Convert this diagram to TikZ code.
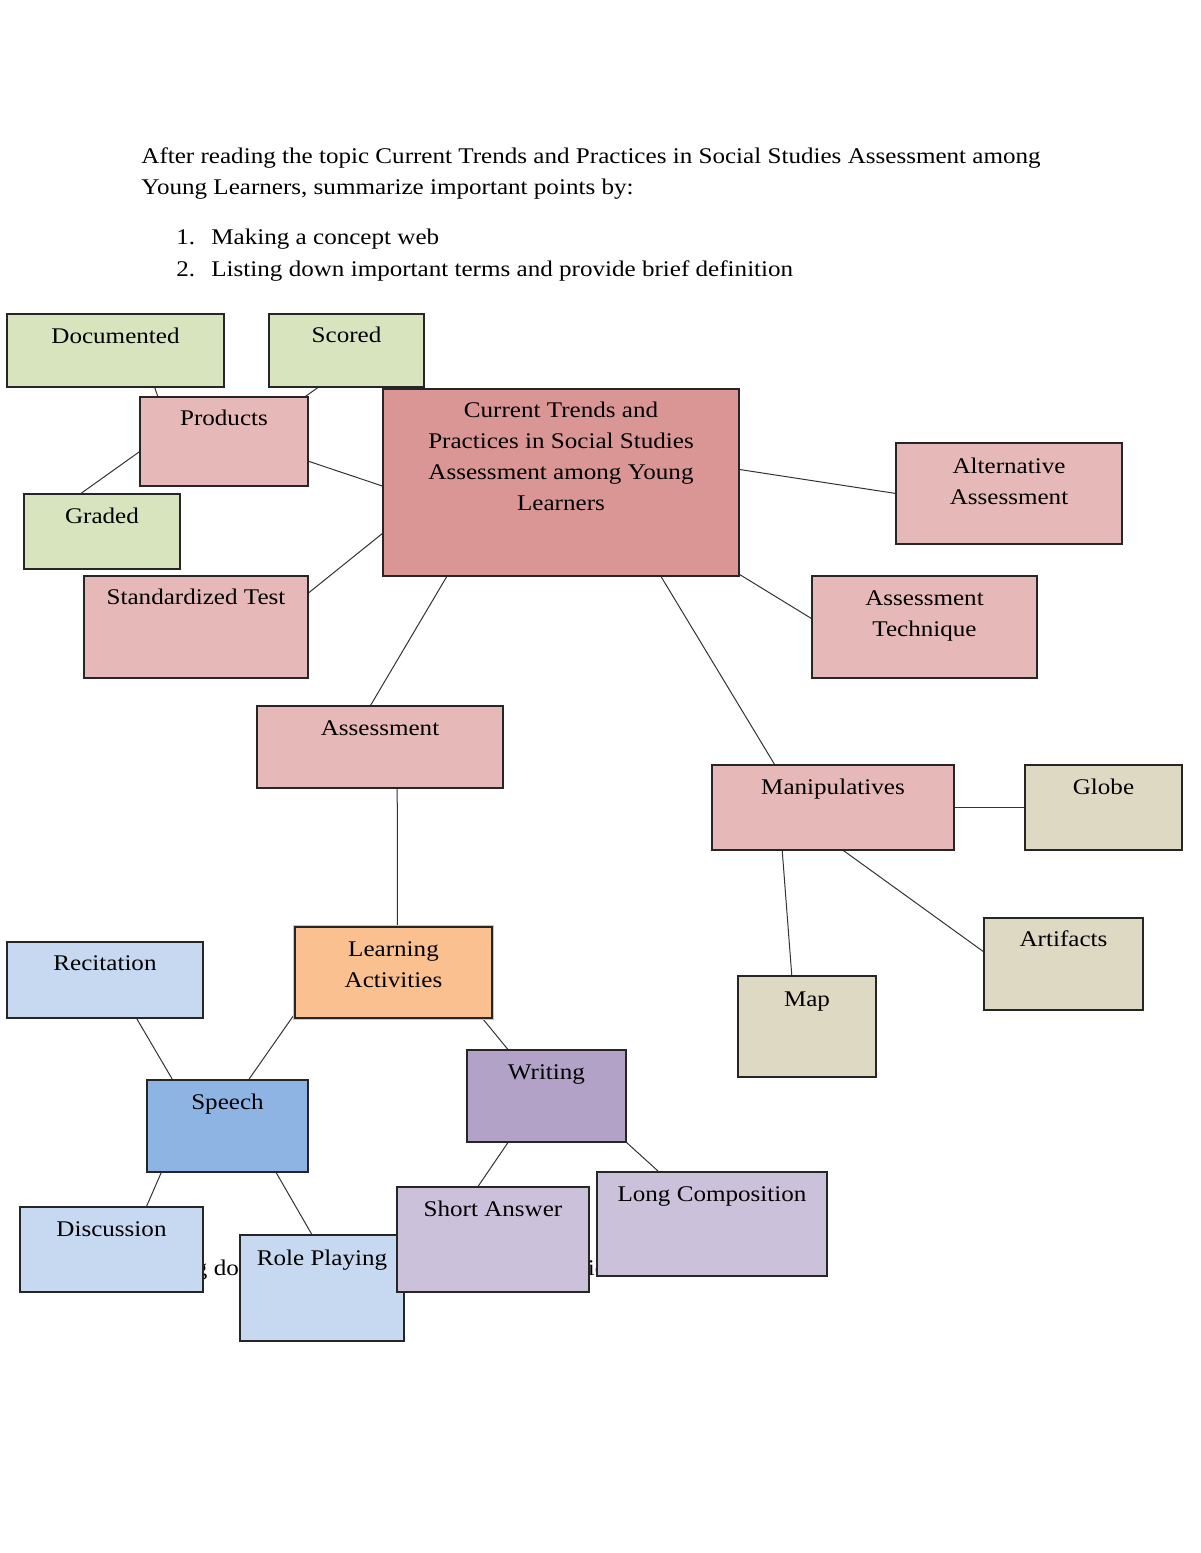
\documentclass[tikz,border=0pt]{standalone}
\usepackage{fontspec}
\setmainfont{Liberation Serif}[FakeStretch=1.12]
\usetikzlibrary{calc}
\definecolor{cgreen}{HTML}{D7E4BD}
\definecolor{cpink}{HTML}{E6B9B8}
\definecolor{ccentral}{HTML}{D99694}
\definecolor{ctan}{HTML}{DDD9C3}
\definecolor{corange}{HTML}{FAC090}
\definecolor{cglow}{HTML}{F8B98A}
\definecolor{clblue}{HTML}{C6D9F1}
\definecolor{cblue}{HTML}{8EB4E3}
\definecolor{cpurple}{HTML}{B3A2C7}
\definecolor{clpurple}{HTML}{CCC1DA}
\pgfdeclarelayer{bg}
\pgfsetlayers{bg,main}
\tikzset{
  box/.style={rectangle, draw=black!85, line width=0.75pt, inner sep=0pt, outer sep=0pt},
  lbl/.style={inner sep=0pt, font=\fontsize{11.2pt}{15.5pt}\selectfont, align=center, anchor=base},
  txt/.style={inner sep=0pt, font=\fontsize{11.2pt}{15.5pt}\selectfont, anchor=base west},
  link/.style={draw=black!80, line width=0.5pt},
  glow/.style={preaction={draw=cglow, line width=2.2pt}},
}
% name, style, x1, y1, x2, y2, baseline y of the last line, text
\newcommand\cbox[8]{%
  \node[box,#2,minimum width={(#5-#3)*0.5pt},minimum height={(#6-#4)*0.5pt}] (#1) at ({(#3+#5)/2},{(#4+#6)/2}) {};
  \node[lbl] (#1-t) at ([yshift={-(#7-#4)*0.5pt}]#1.north) {#8};
}
\begin{document}
\begin{tikzpicture}[x=0.5pt,y=-0.5pt]
\useasboundingbox (0,0) rectangle (1200,1553);

% heading
\node[txt] (h1) at (141,163) {After reading the topic Current Trends and Practices in Social Studies Assessment among};
\node[txt] (h2) at (141,194) {Young Learners, summarize important points by:};
\node[txt] (n1) at (176,244) {1.};
\node[txt] (i1) at (211,244) {Making a concept web};
\node[txt] (n2) at (176,276) {2.};
\node[txt] (i2) at (211,276) {Listing down important terms and provide brief definition};

% text partly hidden behind the boxes
\begin{pgfonlayer}{bg}
\node[txt] (hidden) at (136,1275) {Listing down important terms and provide brief definition};
\end{pgfonlayer}

% boxes
\cbox{doc}{fill=cgreen}{7}{314}{224}{387}{343}{Documented}
\cbox{sco}{fill=cgreen}{269}{314}{424}{387}{342}{Scored}
\cbox{prod}{fill=cpink}{140}{397}{308}{486}{425}{Products}
\cbox{grad}{fill=cgreen}{24}{494}{180}{569}{523}{Graded}
\cbox{cen}{fill=ccentral}{383}{389}{739}{576}{510}{Current Trends and\\Practices in Social Studies\\Assessment among Young\\Learners}
\cbox{alt}{fill=cpink}{896}{443}{1122}{544}{504}{Alternative\\Assessment}
\cbox{tech}{fill=cpink}{812}{576}{1037}{678}{636}{Assessment\\Technique}
\cbox{std}{fill=cpink}{84}{576}{308}{678}{604}{Standardized Test}
\cbox{ass}{fill=cpink}{257}{706}{503}{788}{735}{Assessment}
\cbox{man}{fill=cpink}{712}{765}{954}{850}{794}{Manipulatives}
\cbox{glo}{fill=ctan}{1025}{765}{1182}{850}{794}{Globe}
\cbox{art}{fill=ctan}{984}{918}{1143}{1010}{946}{Artifacts}
\cbox{map}{fill=ctan}{738}{976}{876}{1077}{1006}{Map}
\cbox{lea}{fill=corange,glow}{295}{927}{492}{1018}{987}{Learning\\Activities}
\cbox{rec}{fill=clblue}{7}{942}{203}{1018}{970}{Recitation}
\cbox{spe}{fill=cblue}{147}{1080}{308}{1172}{1109}{Speech}
\cbox{wri}{fill=cpurple}{467}{1050}{626}{1142}{1079}{Writing}
\cbox{dis}{fill=clblue}{20}{1207}{203}{1292}{1236}{Discussion}
\cbox{rol}{fill=clblue}{240}{1235}{404}{1341}{1265}{Role Playing}
\cbox{sho}{fill=clpurple}{397}{1187}{589}{1292}{1216}{Short Answer}
\cbox{lon}{fill=clpurple}{597}{1172}{827}{1276}{1201}{Long Composition}

% connectors
\begin{pgfonlayer}{bg}
\draw[link] ($(doc.south west)!.68!(doc.south east)$) -- ($(prod.north west)!.107!(prod.north east)$);
\draw[link] ($(sco.south west)!.32!(sco.south east)$) -- ($(prod.north west)!.98!(prod.north east)$);
\draw[link] ($(prod.north west)!.61!(prod.south west)$) -- ($(grad.north west)!.36!(grad.north east)$);
\draw[link] ($(prod.north east)!.72!(prod.south east)$) -- ($(cen.north west)!.52!(cen.south west)$);
\draw[link] ($(std.north east)!.17!(std.south east)$) -- ($(cen.north west)!.77!(cen.south west)$);
\draw[link] ($(cen.north east)!.43!(cen.south east)$) -- ($(alt.north west)!.50!(alt.south west)$);
\draw[link] ($(cen.north east)!.99!(cen.south east)$) -- ($(tech.north west)!.42!(tech.south west)$);
\draw[link] ($(cen.south west)!.18!(cen.south east)$) -- ($(ass.north west)!.46!(ass.north east)$);
\draw[link] ($(cen.south west)!.78!(cen.south east)$) -- ($(man.north west)!.26!(man.north east)$);
\draw[link] (man.east) -- (glo.west);
\draw[link] ($(man.south west)!.29!(man.south east)$) -- ($(map.north west)!.39!(map.north east)$);
\draw[link] ($(man.south west)!.54!(man.south east)$) -- ($(art.north west)!.37!(art.south west)$);
\draw[link] ($(ass.south west)!.57!(ass.south east)$) -- ($(lea.north west)!.52!(lea.north east)$);
\draw[link] ($(lea.north west)!.95!(lea.south west)$) -- ($(spe.north west)!.63!(spe.north east)$);
\draw[link] ($(lea.south west)!.95!(lea.south east)$) -- ($(wri.north west)!.26!(wri.north east)$);
\draw[link] ($(rec.south west)!.66!(rec.south east)$) -- ($(spe.north west)!.16!(spe.north east)$);
\draw[link] ($(spe.south west)!.09!(spe.south east)$) -- ($(dis.north west)!.69!(dis.north east)$);
\draw[link] ($(spe.south west)!.80!(spe.south east)$) -- ($(rol.north west)!.44!(rol.north east)$);
\draw[link] ($(wri.south west)!.26!(wri.south east)$) -- ($(sho.north west)!.42!(sho.north east)$);
\draw[link] (wri.south east) -- ($(lon.north west)!.27!(lon.north east)$);
\end{pgfonlayer}
\end{tikzpicture}
\end{document}
